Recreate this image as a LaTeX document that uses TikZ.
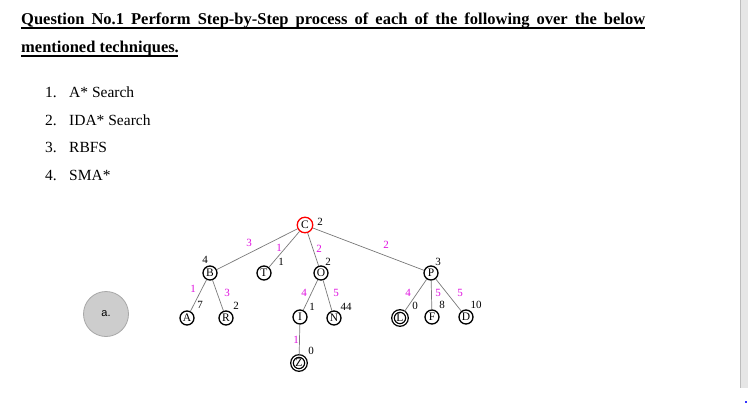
\documentclass[tikz,border=0pt]{standalone}
\usepackage{fontspec}
\setmainfont{Liberation Serif}
\newfontfamily\arialfont{Liberation Sans}
\definecolor{edgegray}{HTML}{7A7A7A}
\definecolor{wmag}{HTML}{E010E0}
\definecolor{barfill}{HTML}{E6E6E6}
\definecolor{baredge}{HTML}{BDBDBD}
\definecolor{bubfill}{HTML}{CDCDCD}
\definecolor{bubedge}{HTML}{A8A8A8}
\begin{document}
\begin{tikzpicture}[x=1pt,y=-1pt,
  tnode/.style={circle,draw=black,line width=1.3pt,minimum size=14pt,inner sep=0pt,font=\fontsize{11.5}{11.5}\selectfont},
  goal/.style={tnode,double,double distance=1.2pt},
  root/.style={tnode,draw=red,minimum size=15.5pt},
  hval/.style={font=\fontsize{11}{11}\selectfont,inner sep=0pt},
  wval/.style={font=\fontsize{11}{11}\selectfont,text=wmag,inner sep=0pt},
  edge/.style={draw=edgegray,line width=0.7pt},
  title/.style={anchor=base west,inner sep=0pt,font=\fontsize{16.5}{18}\selectfont\bfseries},
  item/.style={anchor=base west,inner sep=0pt,font=\fontsize{15.5}{17}\selectfont}]
\useasboundingbox (0,0) rectangle (748,405);
\fill[white] (0,0) rectangle (748,405);
% right grey bar
\fill[barfill] (740,0) rectangle (748,388);
\draw[baredge,line width=0.8pt] (740.4,0) -- (740.4,388);
\fill[blue!80] (745,401) rectangle (747,403);
% title
\node[title] (t1) at (21,24) {\makebox[624pt][s]{Question No.1 Perform Step-by-Step process of each of the following over the below}};
\draw[line width=1.2pt] (21,28) -- (645,28);
\node[title] (t2) at (21,52) {mentioned techniques.};
\draw[line width=1.2pt] (21,56) -- (178,56);
% list
\node[item] (n1) at (45,97) {1.};
\node[item] (i1) at (69,97) {A* Search};
\node[item] (n2) at (45,125) {2.};
\node[item] (i2) at (69,125) {IDA* Search};
\node[item] (n3) at (45,152) {3.};
\node[item] (i3) at (69,152) {RBFS};
\node[item] (n4) at (45,180) {4.};
\node[item] (i4) at (69,180) {SMA*};
% bubble
\node[circle,fill=bubfill,draw=bubedge,line width=0.8pt,minimum size=45pt,inner sep=0pt,font=\arialfont\fontsize{11}{11}\selectfont] (bub) at (106,314) {a.};
% tree nodes
\node[root] (C) at (305,225) {C};
\node[tnode] (B) at (210,273) {B};
\node[tnode] (T) at (264,273) {T};
\node[tnode] (O) at (321,273) {O};
\node[tnode] (P) at (431,273) {P};
\node[tnode] (A) at (187,318) {A};
\node[tnode] (R) at (226,318) {R};
\node[tnode] (I) at (300,317) {I};
\node[tnode] (N) at (334,318) {N};
\node[goal] (L) at (400,318) {L};
\node[tnode] (F) at (432,317) {F};
\node[tnode] (D) at (466,317) {D};
\node[goal] (Z) at (299,363) {Z};
% edges
\draw[edge] (C) -- (B);
\draw[edge] (C) -- (T);
\draw[edge] (C) -- (O);
\draw[edge] (C) -- (P);
\draw[edge] (B) -- (A);
\draw[edge] (B) -- (R);
\draw[edge] (O) -- (I);
\draw[edge] (O) -- (N);
\draw[edge] (I) -- (Z);
\draw[edge] (P) -- (L);
\draw[edge] (P) -- (F);
\draw[edge] (P) -- (D);
% heuristic values
\node[hval] (hC) at (320,222) {2};
\node[hval] (hB) at (205,260) {4};
\node[hval] (hT) at (281,262) {1};
\node[hval] (hO) at (328,262) {2};
\node[hval] (hP) at (438,262) {3};
\node[hval] (hA) at (200,305) {7};
\node[hval] (hR) at (236,306) {2};
\node[hval] (hI) at (312,307) {1};
\node[hval] (hN) at (346,307) {44};
\node[hval] (hL) at (415,306) {0};
\node[hval] (hF) at (442,305) {8};
\node[hval] (hD) at (476,305) {10};
\node[hval] (hZ) at (311,351) {0};
% edge weights
\node[wval] (wCB) at (249,243) {3};
\node[wval] (wCT) at (279,248) {1};
\node[wval] (wCO) at (319,249) {2};
\node[wval] (wCP) at (386,245) {2};
\node[wval] (wBA) at (193,289) {1};
\node[wval] (wBR) at (227,293) {3};
\node[wval] (wOI) at (304,293) {4};
\node[wval] (wON) at (336,293) {5};
\node[wval] (wIZ) at (296,340) {1};
\node[wval] (wPL) at (408,293) {4};
\node[wval] (wPF) at (438,293) {5};
\node[wval] (wPD) at (460,293) {5};
\end{tikzpicture}
\end{document}
